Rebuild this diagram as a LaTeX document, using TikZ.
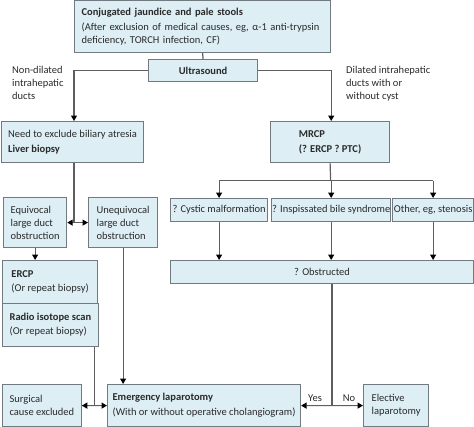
\documentclass[tikz,border=0pt]{standalone}
\usepackage{fontspec}
\setmainfont{Carlito}
\usepackage{tikz}
\usetikzlibrary{positioning,arrows.meta,calc}

\definecolor{boxfill}{HTML}{DDEEF5}
\definecolor{boxline}{HTML}{707A80}
\definecolor{linecol}{HTML}{5E5E5E}
\definecolor{textcol}{HTML}{2A2A2A}

\begin{document}
\begin{tikzpicture}[x=1pt, y=-1pt,
  every node/.style={font=\fontsize{10.5pt}{13pt}\selectfont, text=textcol},
  box/.style={draw=boxline, fill=boxfill, line width=1.2pt, anchor=north west, align=left, inner xsep=7pt, inner ysep=2pt},
  slim/.style={box, inner xsep=0.5pt},
  note/.style={anchor=north west, align=left, inner sep=0pt},
  line/.style={draw=linecol, line width=1.2pt},
  arr/.style={line, -{Triangle[length=5.5pt, width=6pt, color=black, fill=black]}},
]
\useasboundingbox (0,0) rectangle (474,426);

% === Top of the chart ===
\node[box, minimum width=256pt, minimum height=52pt, text width=242pt] (jaundice) at (74,0) {
  \textbf{Conjugated jaundice and pale stools}\\[2pt]
  (After exclusion of medical causes, eg, α-1 anti-trypsin\\deficiency, TORCH infection, CF)
};
\node[box, minimum width=109pt, minimum height=22pt, align=center] (ultra) at (148,59) {\textbf{Ultrasound}};

% Branch labels
\node[note] (nondil) at (12,66) {Non-dilated\\intrahepatic\\ducts};
\node[note] (dil) at (346,66) {Dilated intrahepatic\\ducts with or\\without cyst};

% === Non-dilated branch ===
\node[box, minimum width=137pt, minimum height=41pt] (liver) at (0.6,121) {Need to exclude biliary atresia\\[2pt]\textbf{Liver biopsy}};
\node[box, minimum width=59pt, minimum height=50pt] (equiv) at (3,197) {Equivocal\\large duct\\obstruction};
\node[box, minimum width=69pt, minimum height=50pt] (unequiv) at (88,197) {Unequivocal\\large duct\\obstruction};
\node[box, minimum width=95pt, minimum height=43pt] (ercp) at (2,260) {\textbf{ERCP}\\[1pt](Or repeat biopsy)};
\node[box, minimum width=95pt, minimum height=43pt] (radio) at (2,303) {\textbf{Radio isotope scan}\\[1pt](Or repeat biopsy)};

% === Dilated branch ===
\node[box, minimum width=119pt, minimum height=41pt] (mrcp) at (270,121) {\textbf{MRCP}\\[2pt]\textbf{(? ERCP ? PTC)}};
\node[slim, minimum width=97pt, minimum height=23pt] (cystic) at (170,198) {? Cystic malformation};
\node[slim, minimum width=118pt, minimum height=23pt] (inspiss) at (271,198) {? Inspissated bile syndrome};
\node[slim, minimum width=81pt, minimum height=23pt] (other) at (392,198) {Other, eg, stenosis};
\node[box, minimum width=303pt, minimum height=23pt, align=center] (obstr) at (170,260) {? Obstructed};

% === Outcomes ===
\node[box, minimum width=75pt, minimum height=42pt] (surgical) at (2,384) {Surgical\\cause excluded};
\node[box, minimum width=189pt, minimum height=42pt, inner xsep=5pt] (emerg) at (107,384) {\textbf{Emergency laparotomy}\\[2pt](With or without operative cholangiogram)};
\node[box, minimum width=65pt, minimum height=42pt] (elective) at (363,384) {Elective\\laparotomy};

% === Arrows ===
\draw[line] (jaundice.south) -- (ultra.north);
\draw[arr] (ultra.west) -| (jaundice.south west |- liver.north);
\draw[arr] (ultra.east) -| (jaundice.south east |- mrcp.north);

% Liver biopsy split
\draw[line] (liver.south -| jaundice.south west) -- (jaundice.south west |- equiv.east) coordinate (ljoin);
\draw[arr] (ljoin) -- (equiv.east);
\draw[arr] (ljoin) -- (unequiv.west);
\draw[arr] (equiv.south) -- (equiv.south |- ercp.north);
\draw[arr] (unequiv.south) -- (unequiv.south |- emerg.north);

% Radio isotope scan split
\coordinate (bjoin) at ($(surgical.east)!0.5!(emerg.west)$);
\draw[line] (radio.south -| bjoin) -- (bjoin);
\draw[arr] (bjoin) -- (surgical.east);
\draw[arr] (bjoin) -- (emerg.west);

% MRCP split
\coordinate (msplit) at ($(mrcp.south)!0.5!(inspiss.north)$);
\draw[line] (mrcp.south) -- (msplit);
\draw[line] (cystic.north |- msplit) -- (other.north |- msplit);
\foreach \n in {cystic, inspiss, other} {
  \draw[arr] (\n.north |- msplit) -- (\n.north);
  \draw[arr] (\n.south) -- (\n.south |- obstr.north);
}

% Obstructed split
\coordinate (ojoin) at ($(emerg.east)!0.5!(elective.west)$);
\draw[line] (obstr.south -| ojoin) -- (ojoin);
\draw[arr] (ojoin) -- node[above, pos=0.55] (yes) {Yes} (emerg.east);
\draw[arr] (ojoin) -- node[above, pos=0.55] (no) {No} (elective.west);

\end{tikzpicture}
\end{document}
